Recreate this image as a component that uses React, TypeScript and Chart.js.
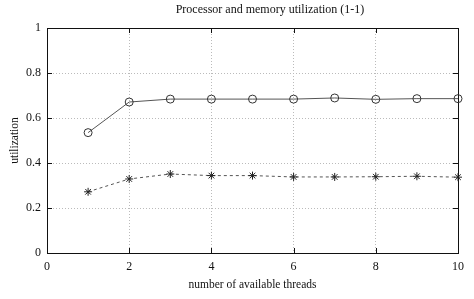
import React, { useEffect, useRef } from "react";
import { Chart, registerables } from "chart.js";

Chart.register(...registerables);

const threads = [1, 2, 3, 4, 5, 6, 7, 8, 9, 10];
const processorUtil = [0.535, 0.671, 0.684, 0.684, 0.684, 0.684, 0.689, 0.683, 0.686, 0.686];
const memoryUtil = [0.272, 0.329, 0.351, 0.344, 0.344, 0.338, 0.338, 0.339, 0.341, 0.337];
const xTicks = [0, 2, 4, 6, 8, 10];
const yTicks = [0, 0.2, 0.4, 0.6, 0.8, 1];

const chartTitle = "Processor and memory utilization (1-1)";
const xTitle = "number of available threads";
const yTitle = "utilization";

const FONT = "'Liberation Serif', 'DejaVu Serif', serif";

const framePlugin = {
  id: "gnuplotFrame",
  beforeDatasetsDraw(chart: any) {
    const { ctx, chartArea } = chart;
    const { left, right, top, bottom } = chartArea;
    const xs = chart.scales.x;
    const ys = chart.scales.y;
    ctx.save();
    ctx.strokeStyle = "#111";
    ctx.lineWidth = 1;
    ctx.setLineDash([]);
    ctx.strokeRect(Math.round(left) + 0.5, Math.round(top) + 0.5, Math.round(right - left), Math.round(bottom - top));
    const tl = 5;
    ctx.beginPath();
    xTicks.forEach((v) => {
      const px = Math.round(xs.getPixelForValue(v)) + 0.5;
      ctx.moveTo(px, bottom);
      ctx.lineTo(px, bottom - tl);
      ctx.moveTo(px, top);
      ctx.lineTo(px, top + tl);
    });
    yTicks.forEach((v) => {
      const py = Math.round(ys.getPixelForValue(v)) + 0.5;
      ctx.moveTo(left, py);
      ctx.lineTo(left + tl, py);
      ctx.moveTo(right, py);
      ctx.lineTo(right - tl, py);
    });
    ctx.stroke();
    // title
    ctx.fillStyle = "#111";
    ctx.font = `12px ${FONT}`;
    ctx.textAlign = "center";
    ctx.textBaseline = "middle";
    ctx.fillText(chartTitle, 270, 10);
    ctx.restore();
  },
};

export default function App() {
  const ref = useRef<HTMLCanvasElement | null>(null);
  useEffect(() => {
    document.body.style.margin = "0";
    const chart = new Chart(ref.current as HTMLCanvasElement, {
      type: "line",
      data: {
        labels: threads,
        datasets: [
          {
            label: "processor",
            data: threads.map((t, i) => ({ x: t, y: processorUtil[i] })),
            borderColor: "#555",
            borderWidth: 1,
            pointStyle: "circle",
            pointRadius: 4,
            pointBorderColor: "#333",
            pointBackgroundColor: "rgba(255,255,255,0)",
            pointBorderWidth: 1,
            clip: false,
            tension: 0,
          } as any,
          {
            label: "memory",
            data: threads.map((t, i) => ({ x: t, y: memoryUtil[i] })),
            borderColor: "#555",
            borderWidth: 1,
            borderDash: [3, 3],
            pointStyle: "star",
            pointRadius: 4,
            pointBorderColor: "#222",
            pointBackgroundColor: "#222",
            pointBorderWidth: 1,
            clip: false,
            tension: 0,
          } as any,
        ],
      },
      options: {
        responsive: false,
        animation: false,
        layout: { padding: { top: 28, right: 16, left: 0, bottom: 0 } },
        plugins: {
          legend: { display: false },
          title: { display: false },
          tooltip: { enabled: false },
        },
        scales: {
          x: {
            type: "linear",
            min: 0,
            max: 10,
            afterFit: (s: any) => {
              s.height = 46;
            },
            afterBuildTicks: (s: any) => {
              s.ticks = xTicks.map((v) => ({ value: v }));
            },
            ticks: {
              padding: 7,
              color: "#111",
              font: { family: FONT, size: 12 },
              callback: (v: any) => String(v),
            },
            grid: { color: "#bbb", lineWidth: 1, drawTicks: false },
            border: { display: false, dash: [1, 2] },
            title: {
              display: true,
              text: xTitle,
              color: "#111",
              font: { family: FONT, size: 11.5 },
              padding: { top: 0, bottom: 7 },
            },
          },
          y: {
            type: "linear",
            min: 0,
            max: 1,
            afterFit: (s: any) => {
              s.width = 47;
            },
            afterBuildTicks: (s: any) => {
              s.ticks = yTicks.map((v) => ({ value: v }));
            },
            ticks: {
              padding: 6,
              color: "#111",
              font: { family: FONT, size: 12 },
              callback: (v: any) => String(v),
            },
            grid: { color: "#bbb", lineWidth: 1, drawTicks: false },
            border: { display: false, dash: [1, 2] },
            title: {
              display: true,
              text: yTitle,
              color: "#111",
              font: { family: FONT, size: 11.5 },
              padding: { top: 8, bottom: 0 },
            },
          },
        },
      },
      plugins: [framePlugin],
    });
    return () => chart.destroy();
  }, []);
  return (
    <div style={{ position: "absolute", left: 0, top: 0, width: 474, height: 299 }}>
      <canvas ref={ref} width={474} height={299} />
    </div>
  );
}
